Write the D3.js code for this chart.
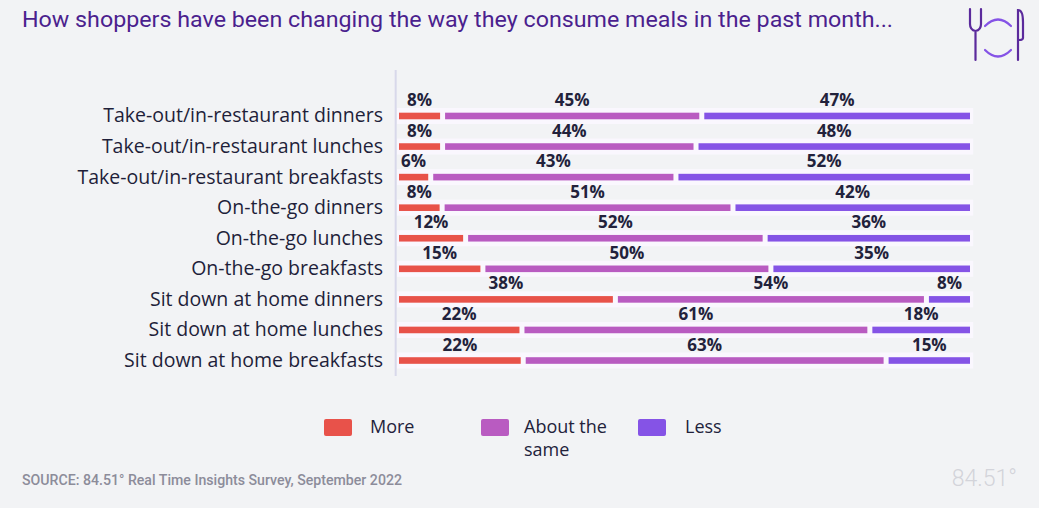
<!DOCTYPE html>
<html>
<head>
<meta charset="utf-8">
<script src="https://cdn.jsdelivr.net/npm/d3@7"></script>
<style>
  body { margin: 0; background: #f2f3f5; }
  svg { display: block; }
</style>
</head>
<body>
<div id="chart"></div>
<script>
var categories = [
  "Take-out/in-restaurant dinners",
  "Take-out/in-restaurant lunches",
  "Take-out/in-restaurant breakfasts",
  "On-the-go dinners",
  "On-the-go lunches",
  "On-the-go breakfasts",
  "Sit down at home dinners",
  "Sit down at home lunches",
  "Sit down at home breakfasts"
];
var seriesNames = ["More", "About the same", "Less"];
var more = [8, 8, 6, 8, 12, 15, 38, 22, 22];
var same = [45, 44, 43, 51, 52, 50, 54, 61, 63];
var less = [47, 48, 52, 42, 36, 35, 8, 18, 15];
var colors = ["#e8524a", "#b95bc1", "#8553e6"];

var width = 1039, height = 508;

var svg = d3.select("#chart").append("svg")
  .attr("width", width)
  .attr("height", height);

svg.append("rect").attr("width", width).attr("height", height).attr("fill", "#f2f3f5");

// title
svg.append("text")
  .attr("x", 22).attr("y", 27)
  .attr("fill", "#4b1f8e")
  .attr("textLength", 871).attr("lengthAdjust", "spacingAndGlyphs")
  .style("font-family", "Roboto, sans-serif")
  .style("font-size", "22px")
  .text("How shoppers have been changing the way they consume meals in the past month...");

var x = d3.scaleLinear().domain([0, 1]).range([396.5, 972.5]);
var y = d3.scaleBand().domain(categories).range([100.7, 375.8]).paddingInner(0);

// rows: stacked shares, normalised to the row total
var rows = categories.map(function (c, i) {
  var vals = [more[i], same[i], less[i]];
  var total = d3.sum(vals);
  var acc = 0;
  return {
    cat: c,
    segs: vals.map(function (v, j) {
      var s = { v: v, x0: acc / total, x1: (acc + v) / total, color: colors[j] };
      acc += v;
      return s;
    })
  };
});

// axis line
svg.append("line")
  .attr("x1", 395.7).attr("x2", 395.7)
  .attr("y1", 70).attr("y2", 376)
  .attr("stroke", "#d8d8ea").attr("stroke-width", 2);

var row = svg.selectAll("g.row").data(rows).enter().append("g")
  .attr("class", "row")
  .attr("transform", function (d) { return "translate(0," + (y(d.cat) + y.bandwidth() / 2) + ")"; });

row.append("rect")
  .attr("x", x(0) + 0.5).attr("width", x(1) - x(0) + 0.2)
  .attr("y", -8).attr("height", 16)
  .attr("fill", "#faf7fe");

row.append("text")
  .attr("x", 383).attr("y", -1)
  .attr("text-anchor", "end")
  .attr("dominant-baseline", "central")
  .attr("fill", "#1f1f3a")
  .style("font-family", "'Open Sans', sans-serif")
  .style("font-size", "19.5px")
  .text(function (d) { return d.cat; });

var seg = row.selectAll("g.seg").data(function (d) { return d.segs; }).enter().append("g");

seg.append("rect")
  .attr("x", function (d) { return x(d.x0) + 2.5; })
  .attr("width", function (d) { return Math.max(0, x(d.x1) - x(d.x0) - 5); })
  .attr("y", -3.3).attr("height", 6.6)
  .attr("fill", function (d) { return d.color; });

seg.append("text")
  .attr("x", function (d) { return (x(d.x0) + x(d.x1)) / 2; })
  .attr("y", -10)
  .attr("text-anchor", "middle")
  .attr("fill", "#22223b")
  .style("font-family", "'Open Sans', sans-serif")
  .style("font-weight", "bold")
  .style("font-size", "17px")
  .text(function (d) { return d.v + "%"; });

// legend
var legendX = [324, 481, 638];
var legend = svg.selectAll("g.legend").data(seriesNames).enter().append("g")
  .attr("transform", function (d, i) { return "translate(" + legendX[i] + ",419)"; });

legend.append("rect")
  .attr("width", 28).attr("height", 17).attr("rx", 2)
  .attr("fill", function (d, i) { return colors[i]; });

legend.append("text")
  .attr("x", function (d, i) { return i === 2 ? 47 : i === 1 ? 43 : 46; })
  .attr("y", 14)
  .attr("fill", "#22223b")
  .style("font-family", "'Open Sans', sans-serif")
  .style("font-size", "18px")
  .each(function (d) {
    var t = d3.select(this);
    var parts = d === "About the same" ? ["About the", "same"] : [d];
    parts.forEach(function (p, k) {
      t.append("tspan").attr("x", t.attr("x")).attr("dy", k === 0 ? 0 : 23).text(p);
    });
  });

// source
svg.append("text")
  .attr("x", 22).attr("y", 485)
  .attr("fill", "#8c8c9a")
  .attr("textLength", 380).attr("lengthAdjust", "spacingAndGlyphs")
  .style("font-family", "Roboto, sans-serif")
  .style("font-weight", "500")
  .style("font-size", "14px")
  .text("SOURCE: 84.51\u00b0 Real Time Insights Survey, September 2022");

// 84.51 logo
svg.append("text")
  .attr("x", 1017).attr("y", 486)
  .attr("text-anchor", "end")
  .attr("fill", "#d3d4da")
  .style("font-family", "Roboto, sans-serif")
  .style("font-weight", "300")
  .style("font-size", "23px")
  .text("84.51\u00b0");

// fork / plate / knife icon
var icon = svg.append("g").attr("fill", "none").attr("stroke-linecap", "round");
icon.append("path")
  .attr("d", "M970,9 V24 Q970,30 975.5,31 Q981,30 981,24 V9 M975.5,31 V60")
  .attr("stroke", "#5b2a9c").attr("stroke-width", 2.2);
icon.append("path")
  .attr("d", "M985,26 Q998,13 1011,26 M985,50 Q998,63 1011,50")
  .attr("stroke", "#8553e6").attr("stroke-width", 2.2);
icon.append("path")
  .attr("d", "M1018,60 V10 Q1023,10 1023,22 V38 Q1023,40 1019,40")
  .attr("stroke", "#5b2a9c").attr("stroke-width", 2.2);
</script>
</body>
</html>
